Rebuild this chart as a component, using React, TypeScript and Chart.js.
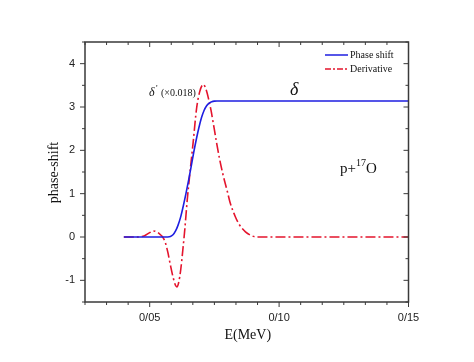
import React, { useEffect, useRef } from "react";
import { Chart, registerables } from "chart.js";

Chart.register(...registerables);

// ---- data ----
const phaseE = [0.04, 0.045, 0.05, 0.055, 0.057, 0.058, 0.059, 0.06, 0.061, 0.062, 0.063, 0.064, 0.065, 0.066, 0.067, 0.068, 0.069, 0.07, 0.071, 0.072, 0.073, 0.074, 0.075, 0.076, 0.08, 0.09, 0.1, 0.11, 0.12, 0.13, 0.14, 0.15];
const phaseVal = [0, 0, 0, 0, 0, 0.01, 0.05, 0.14, 0.28, 0.47, 0.72, 1.0, 1.3, 1.62, 1.95, 2.25, 2.52, 2.75, 2.92, 3.03, 3.09, 3.12, 3.135, 3.14, 3.14, 3.14, 3.14, 3.14, 3.14, 3.14, 3.14, 3.14];

const derivE = [0.04, 0.045, 0.048, 0.05, 0.0514, 0.053, 0.054, 0.055, 0.056, 0.057, 0.058, 0.059, 0.06, 0.0605, 0.0612, 0.062, 0.0628, 0.0636, 0.0645, 0.0655, 0.0668, 0.0681, 0.0693, 0.0707, 0.0717, 0.0727, 0.0737, 0.0747, 0.0758, 0.077, 0.0784, 0.08, 0.081, 0.083, 0.0848, 0.087, 0.089, 0.0913, 0.1, 0.11, 0.12, 0.13, 0.14, 0.15];
const derivVal = [0, 0, 0.03, 0.1, 0.14, 0.11, 0.06, 0, -0.12, -0.35, -0.65, -0.92, -1.12, -1.15, -1.05, -0.75, -0.3, 0.2, 0.85, 1.45, 2.19, 2.96, 3.35, 3.52, 3.42, 3.2, 2.92, 2.58, 2.19, 1.8, 1.42, 1.05, 0.81, 0.48, 0.27, 0.12, 0.04, 0, 0, 0, 0, 0, 0, 0];

const xTickValues = [0.05, 0.1, 0.15];
const xTickLabels = ["0/05", "0/10", "0/15"];
const xMinorValues = [0.025, 0.03333, 0.04167, 0.05833, 0.06667, 0.075, 0.08333, 0.09167, 0.10833, 0.11667, 0.125, 0.13333, 0.14167];
const yTickValues = [-1, 0, 1, 2, 3, 4];
const yMinorValues = [-1.5, -0.5, 0.5, 1.5, 2.5, 3.5, 4.5];

const seriesNames = ["Phase shift", "Derivative"];

const BLUE = "rgb(30,30,225)";
const RED = "rgb(228,20,45)";
const RED_DASH = [10, 3, 2, 3];
const SERIF = "'Liberation Serif', 'Times New Roman', serif";
const SANS = "'Liberation Sans', Arial, sans-serif";

const decor = {
  id: "decor",
  afterDraw(chart: any) {
    const ctx = chart.ctx;
    const { left, right, top, bottom } = chart.chartArea;
    const xs = chart.scales.x;
    const ys = chart.scales.y;
    ctx.save();
    ctx.strokeStyle = "#3a3a3a";
    ctx.lineWidth = 1.5;
    ctx.strokeRect(left, top, right - left, bottom - top);
    ctx.lineWidth = 1;
    const tick = (x1: number, y1: number, x2: number, y2: number) => {
      ctx.beginPath();
      ctx.moveTo(x1, y1);
      ctx.lineTo(x2, y2);
      ctx.stroke();
    };
    xTickValues.forEach((v) => {
      const px = xs.getPixelForValue(v);
      tick(px, bottom, px, bottom + 5);
      tick(px, top, px, top + 5);
    });
    xMinorValues.forEach((v) => {
      const px = xs.getPixelForValue(v);
      tick(px, bottom, px, bottom + 3);
      tick(px, top, px, top + 3);
    });
    yTickValues.forEach((v) => {
      const py = ys.getPixelForValue(v);
      tick(left, py, left - 5, py);
      tick(right, py, right - 5, py);
    });
    yMinorValues.forEach((v) => {
      const py = ys.getPixelForValue(v);
      tick(left, py, left - 3, py);
      tick(right, py, right - 3, py);
    });

    // axis titles
    ctx.fillStyle = "#111";
    ctx.font = `14px ${SERIF}`;
    ctx.textAlign = "center";
    ctx.textBaseline = "alphabetic";
    ctx.fillText("E(MeV)", (left + right) / 2 + 1, 339);
    ctx.save();
    ctx.translate(58, (top + bottom) / 2 + 0.5);
    ctx.rotate(-Math.PI / 2);
    ctx.fillText("phase-shift", 0, 0);
    ctx.restore();

    // legend
    const lx0 = 325, lx1 = 348;
    const rows = [55, 69];
    ctx.font = `10px ${SERIF}`;
    ctx.textAlign = "left";
    ctx.textBaseline = "middle";
    ctx.lineWidth = 1.5;
    ctx.strokeStyle = BLUE;
    ctx.setLineDash([]);
    tick(lx0, rows[0], lx1, rows[0]);
    ctx.fillStyle = "#111";
    ctx.fillText(seriesNames[0], lx1 + 2, rows[0]);
    ctx.strokeStyle = RED;
    ctx.setLineDash([6, 2, 2, 2]);
    tick(lx0, rows[1], lx1, rows[1]);
    ctx.setLineDash([]);
    ctx.fillText(seriesNames[1], lx1 + 2, rows[1]);

    // annotations
    ctx.textBaseline = "alphabetic";
    ctx.font = `italic 18px ${SERIF}`;
    ctx.fillText("δ", 290, 95);
    ctx.font = `italic 12px ${SERIF}`;
    ctx.fillText("δ", 149, 96);
    ctx.font = `9px ${SERIF}`;
    ctx.fillText("'", 156, 91);
    ctx.font = `10px ${SERIF}`;
    ctx.fillText("(×0.018)", 161, 96);
    ctx.font = `15px ${SERIF}`;
    ctx.fillText("p+", 340, 173);
    const wp = ctx.measureText("p+").width;
    ctx.font = `10px ${SERIF}`;
    ctx.fillText("17", 340 + wp, 166);
    const w17 = ctx.measureText("17").width;
    ctx.font = `15px ${SERIF}`;
    ctx.fillText("O", 340 + wp + w17, 173);
    ctx.restore();
  },
};

export default function App() {
  const ref = useRef<HTMLCanvasElement | null>(null);
  useEffect(() => {
    if (!ref.current) return;
    const chart = new Chart(ref.current, {
      type: "line",
      data: {
        datasets: [
          {
            label: seriesNames[0],
            data: phaseE.map((x, i) => ({ x, y: phaseVal[i] })),
            borderColor: BLUE,
            borderWidth: 1.6,
            pointRadius: 0,
            cubicInterpolationMode: "monotone",
            fill: false,
          },
          {
            label: seriesNames[1],
            data: derivE.map((x, i) => ({ x, y: derivVal[i] })),
            borderColor: RED,
            borderWidth: 1.6,
            borderDash: RED_DASH,
            pointRadius: 0,
            cubicInterpolationMode: "monotone",
            fill: false,
          },
        ],
      },
      options: {
        animation: false,
        responsive: false,
        maintainAspectRatio: false,
        layout: { padding: { left: 0, top: 42, right: 65.5, bottom: 0 } },
        plugins: { legend: { display: false }, tooltip: { enabled: false } },
        scales: {
          x: {
            type: "linear",
            min: 0.025,
            max: 0.15,
            grid: { display: false, drawTicks: false },
            border: { display: false },
            afterBuildTicks: (s: any) => {
              s.ticks = xTickValues.map((v) => ({ value: v }));
            },
            afterFit: (s: any) => {
              s.height = 60;
            },
            ticks: {
              padding: 9,
              maxRotation: 0,
              autoSkip: false,
              color: "#222",
              font: { family: SANS, size: 11 },
              callback: (v: any) => {
                const i = xTickValues.findIndex((t) => Math.abs(t - v) < 1e-6);
                return i >= 0 ? xTickLabels[i] : "";
              },
            },
          },
          y: {
            type: "linear",
            min: -1.5,
            max: 4.5,
            grid: { display: false, drawTicks: false },
            border: { display: false },
            afterBuildTicks: (s: any) => {
              s.ticks = yTickValues.map((v) => ({ value: v }));
            },
            afterFit: (s: any) => {
              s.width = 85;
            },
            ticks: {
              padding: 10,
              autoSkip: false,
              color: "#222",
              font: { family: SANS, size: 11 },
              callback: (v: any) => String(v),
            },
          },
        },
      },
      plugins: [decor],
    } as any);
    return () => chart.destroy();
  }, []);
  return (
    <div style={{ position: "fixed", left: 0, top: 0, width: 474, height: 362, background: "#fff" }}>
      <canvas ref={ref} width={474} height={362} style={{ display: "block" }} />
    </div>
  );
}
